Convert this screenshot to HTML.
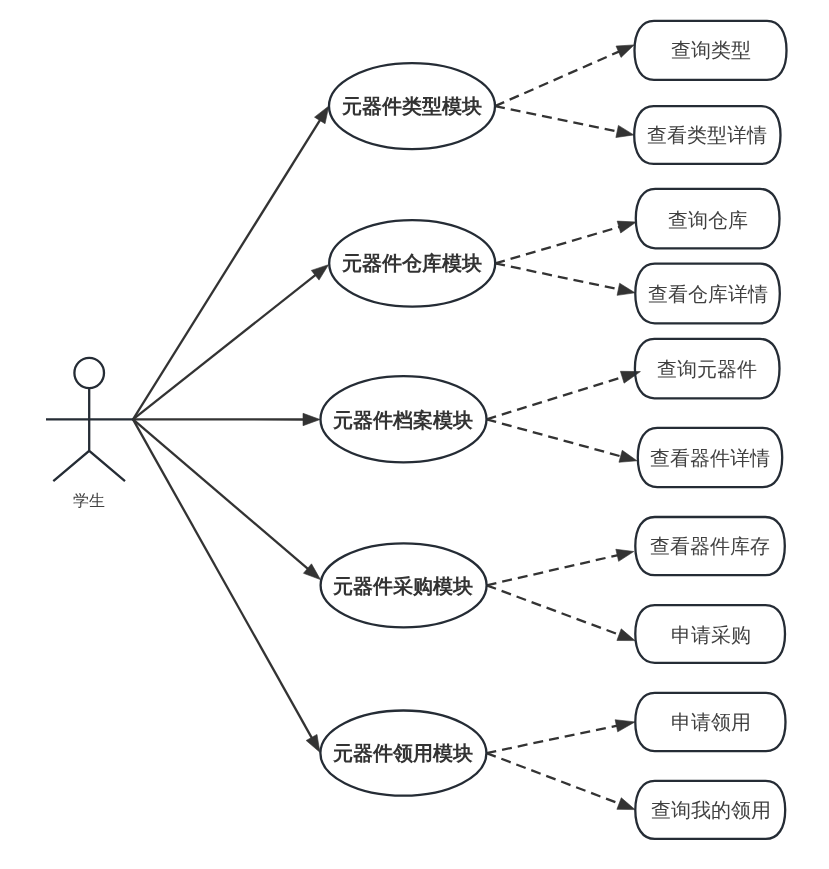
<!DOCTYPE html>
<html><head><meta charset="utf-8"><style>
html,body{margin:0;padding:0;background:#fff;}
body{width:829px;height:869px;overflow:hidden;}
svg{display:block;will-change:transform;font-family:"Liberation Sans",sans-serif;}
</style></head><body>
<svg width="829" height="869" viewBox="0 0 829 869">
<line x1="133.00" y1="419.40" x2="320.32" y2="119.57" stroke="#333333" stroke-width="2.3"/><polygon points="328.80,106.00 325.05,123.70 314.53,117.13" fill="#333333" stroke="#333333" stroke-width="0.6" stroke-linejoin="miter"/>
<line x1="133.00" y1="419.40" x2="315.95" y2="274.63" stroke="#333333" stroke-width="2.3"/><polygon points="328.50,264.70 319.02,280.11 311.32,270.39" fill="#333333" stroke="#333333" stroke-width="0.6" stroke-linejoin="miter"/>
<line x1="133.00" y1="419.40" x2="304.00" y2="419.49" stroke="#333333" stroke-width="2.3"/><polygon points="320.00,419.50 303.00,425.69 303.00,413.29" fill="#333333" stroke="#333333" stroke-width="0.6" stroke-linejoin="miter"/>
<line x1="133.00" y1="419.40" x2="308.24" y2="569.20" stroke="#333333" stroke-width="2.3"/><polygon points="320.40,579.60 303.45,573.27 311.51,563.84" fill="#333333" stroke="#333333" stroke-width="0.6" stroke-linejoin="miter"/>
<line x1="133.00" y1="419.40" x2="312.07" y2="738.35" stroke="#333333" stroke-width="2.3"/><polygon points="319.90,752.30 306.17,740.51 316.98,734.44" fill="#333333" stroke="#333333" stroke-width="0.6" stroke-linejoin="miter"/>
<line x1="495.00" y1="106.10" x2="619.45" y2="51.34" stroke="#333333" stroke-width="2.3" stroke-dasharray="10 6"/><polygon points="634.10,44.90 621.04,57.42 616.04,46.07" fill="#333333" stroke="#333333" stroke-width="0.6" stroke-linejoin="miter"/>
<line x1="495.00" y1="106.10" x2="618.13" y2="131.65" stroke="#333333" stroke-width="2.3" stroke-dasharray="10 6"/><polygon points="633.80,134.90 615.89,137.52 618.41,125.38" fill="#333333" stroke="#333333" stroke-width="0.6" stroke-linejoin="miter"/>
<line x1="495.20" y1="263.35" x2="619.89" y2="226.78" stroke="#333333" stroke-width="2.3" stroke-dasharray="10 6"/><polygon points="636.20,222.00 620.67,233.01 617.18,221.12" fill="#333333" stroke="#333333" stroke-width="0.6" stroke-linejoin="miter"/>
<line x1="495.20" y1="263.35" x2="619.34" y2="289.50" stroke="#333333" stroke-width="2.3" stroke-dasharray="10 6"/><polygon points="635.00,292.80 617.09,295.36 619.64,283.23" fill="#333333" stroke="#333333" stroke-width="0.6" stroke-linejoin="miter"/>
<line x1="486.50" y1="419.30" x2="623.21" y2="376.93" stroke="#333333" stroke-width="2.3" stroke-dasharray="10 6"/><polygon points="640.40,371.60 624.09,383.15 620.42,371.30" fill="#333333" stroke="#333333" stroke-width="0.6" stroke-linejoin="miter"/>
<line x1="486.50" y1="419.30" x2="621.58" y2="456.55" stroke="#333333" stroke-width="2.3" stroke-dasharray="10 6"/><polygon points="637.00,460.80 618.96,462.26 622.26,450.30" fill="#333333" stroke="#333333" stroke-width="0.6" stroke-linejoin="miter"/>
<line x1="486.60" y1="585.30" x2="618.21" y2="555.08" stroke="#333333" stroke-width="2.3" stroke-dasharray="10 6"/><polygon points="633.80,551.50 618.62,561.35 615.84,549.26" fill="#333333" stroke="#333333" stroke-width="0.6" stroke-linejoin="miter"/>
<line x1="486.60" y1="585.30" x2="620.01" y2="635.01" stroke="#333333" stroke-width="2.3" stroke-dasharray="10 6"/><polygon points="635.00,640.60 616.91,640.47 621.24,628.85" fill="#333333" stroke="#333333" stroke-width="0.6" stroke-linejoin="miter"/>
<line x1="486.40" y1="753.10" x2="617.38" y2="725.60" stroke="#333333" stroke-width="2.3" stroke-dasharray="10 6"/><polygon points="635.00,721.90 617.68,731.87 615.13,719.74" fill="#333333" stroke="#333333" stroke-width="0.6" stroke-linejoin="miter"/>
<line x1="486.40" y1="753.10" x2="620.04" y2="803.91" stroke="#333333" stroke-width="2.3" stroke-dasharray="10 6"/><polygon points="635.00,809.60 616.91,809.35 621.31,797.76" fill="#333333" stroke="#333333" stroke-width="0.6" stroke-linejoin="miter"/>
<ellipse cx="412" cy="106.1" rx="83" ry="43.0" fill="none" stroke="#252c35" stroke-width="2.3"/>
<text x="412" y="113.1" text-anchor="middle" font-size="20" font-weight="bold" fill="#333333">元器件类型模块</text>
<ellipse cx="412.2" cy="263.35" rx="83" ry="43.25" fill="none" stroke="#252c35" stroke-width="2.3"/>
<text x="412.2" y="270.35" text-anchor="middle" font-size="20" font-weight="bold" fill="#333333">元器件仓库模块</text>
<ellipse cx="403.5" cy="419.3" rx="83" ry="43.1" fill="none" stroke="#252c35" stroke-width="2.3"/>
<text x="403.0" y="427.3" text-anchor="middle" font-size="20" font-weight="bold" fill="#333333">元器件档案模块</text>
<ellipse cx="403.6" cy="585.3" rx="83" ry="42.0" fill="none" stroke="#252c35" stroke-width="2.3"/>
<text x="403.1" y="593.3" text-anchor="middle" font-size="20" font-weight="bold" fill="#333333">元器件采购模块</text>
<ellipse cx="403.4" cy="753.1" rx="83" ry="42.6" fill="none" stroke="#252c35" stroke-width="2.3"/>
<text x="403.4" y="759.6" text-anchor="middle" font-size="20" font-weight="bold" fill="#333333">元器件领用模块</text>
<path d="M654.00,20.90 L767.00,20.90 C779.28,20.90 786.50,31.82 786.50,50.40 C786.50,68.99 779.28,79.90 767.00,79.90 L654.00,79.90 C641.72,79.90 634.50,68.99 634.50,50.40 C634.50,31.82 641.72,20.90 654.00,20.90 Z" fill="none" stroke="#252c35" stroke-width="2.3"/>
<text x="710.50" y="57.40" text-anchor="middle" font-size="20" fill="#404040">查询类型</text>
<path d="M653.70,106.20 L761.00,106.20 C773.28,106.20 780.50,116.87 780.50,135.05 C780.50,153.23 773.28,163.90 761.00,163.90 L653.70,163.90 C641.42,163.90 634.20,153.23 634.20,135.05 C634.20,116.87 641.42,106.20 653.70,106.20 Z" fill="none" stroke="#252c35" stroke-width="2.3"/>
<text x="707.35" y="142.05" text-anchor="middle" font-size="20" fill="#404040">查看类型详情</text>
<path d="M655.30,188.90 L760.00,188.90 C772.28,188.90 779.50,199.89 779.50,218.60 C779.50,237.31 772.28,248.30 760.00,248.30 L655.30,248.30 C643.01,248.30 635.80,237.31 635.80,218.60 C635.80,199.89 643.01,188.90 655.30,188.90 Z" fill="none" stroke="#252c35" stroke-width="2.3"/>
<text x="707.65" y="226.60" text-anchor="middle" font-size="20" fill="#404040">查询仓库</text>
<path d="M654.80,263.70 L760.30,263.70 C772.58,263.70 779.80,274.73 779.80,293.50 C779.80,312.27 772.58,323.30 760.30,323.30 L654.80,323.30 C642.51,323.30 635.30,312.27 635.30,293.50 C635.30,274.73 642.51,263.70 654.80,263.70 Z" fill="none" stroke="#252c35" stroke-width="2.3"/>
<text x="707.55" y="300.50" text-anchor="middle" font-size="20" fill="#404040">查看仓库详情</text>
<path d="M654.40,338.90 L760.00,338.90 C772.28,338.90 779.50,349.89 779.50,368.60 C779.50,387.31 772.28,398.30 760.00,398.30 L654.40,398.30 C642.12,398.30 634.90,387.31 634.90,368.60 C634.90,349.89 642.12,338.90 654.40,338.90 Z" fill="none" stroke="#252c35" stroke-width="2.3"/>
<text x="707.20" y="375.60" text-anchor="middle" font-size="20" fill="#404040">查询元器件</text>
<path d="M657.30,427.90 L762.70,427.90 C774.99,427.90 782.20,438.87 782.20,457.55 C782.20,476.23 774.99,487.20 762.70,487.20 L657.30,487.20 C645.01,487.20 637.80,476.23 637.80,457.55 C637.80,438.87 645.01,427.90 657.30,427.90 Z" fill="none" stroke="#252c35" stroke-width="2.3"/>
<text x="710.00" y="464.55" text-anchor="middle" font-size="20" fill="#404040">查看器件详情</text>
<path d="M654.80,517.00 L765.30,517.00 C777.58,517.00 784.80,527.77 784.80,546.10 C784.80,564.43 777.58,575.20 765.30,575.20 L654.80,575.20 C642.51,575.20 635.30,564.43 635.30,546.10 C635.30,527.77 642.51,517.00 654.80,517.00 Z" fill="none" stroke="#252c35" stroke-width="2.3"/>
<text x="710.05" y="553.10" text-anchor="middle" font-size="20" fill="#404040">查看器件库存</text>
<path d="M654.80,605.10 L765.50,605.10 C777.78,605.10 785.00,615.77 785.00,633.95 C785.00,652.13 777.78,662.80 765.50,662.80 L654.80,662.80 C642.51,662.80 635.30,652.13 635.30,633.95 C635.30,615.77 642.51,605.10 654.80,605.10 Z" fill="none" stroke="#252c35" stroke-width="2.3"/>
<text x="711.15" y="641.65" text-anchor="middle" font-size="20" fill="#404040">申请采购</text>
<path d="M654.80,692.90 L766.00,692.90 C778.28,692.90 785.50,703.67 785.50,722.00 C785.50,740.33 778.28,751.10 766.00,751.10 L654.80,751.10 C642.51,751.10 635.30,740.33 635.30,722.00 C635.30,703.67 642.51,692.90 654.80,692.90 Z" fill="none" stroke="#252c35" stroke-width="2.3"/>
<text x="711.40" y="729.00" text-anchor="middle" font-size="20" fill="#404040">申请领用</text>
<path d="M654.80,780.90 L765.70,780.90 C777.99,780.90 785.20,791.63 785.20,809.90 C785.20,828.17 777.99,838.90 765.70,838.90 L654.80,838.90 C642.51,838.90 635.30,828.17 635.30,809.90 C635.30,791.63 642.51,780.90 654.80,780.90 Z" fill="none" stroke="#252c35" stroke-width="2.3"/>
<text x="711.25" y="816.90" text-anchor="middle" font-size="20" fill="#404040">查询我的领用</text>
<ellipse cx="89.2" cy="373" rx="14.8" ry="15.2" fill="none" stroke="#252c35" stroke-width="2.3"/>
<path d="M89.2,388.2 L89.2,450.8 M46,419.4 L133,419.4 M53.3,481.2 L89.2,450.8 L125,481.2" fill="none" stroke="#252c35" stroke-width="2.3"/>
<text x="89.3" y="505.5" text-anchor="middle" font-size="16" fill="#404040">学生</text>
</svg></body></html>
